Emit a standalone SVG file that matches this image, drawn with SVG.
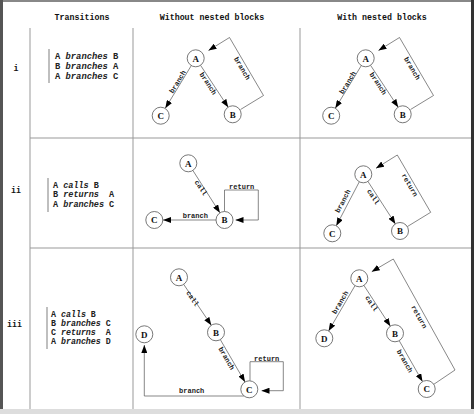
<svg xmlns="http://www.w3.org/2000/svg" width="474" height="414" viewBox="0 0 474 414">
<defs>
<marker id="arr" markerUnits="userSpaceOnUse" markerWidth="8" markerHeight="6" viewBox="0 0 8 6" refX="8" refY="3" orient="auto"><path d="M0,0 L8,3 L0,6 z" fill="#000"/></marker>
</defs>
<style>
.grid{stroke:#999;stroke-width:1;fill:none}
.bar{stroke:#aaa;stroke-width:1.5}
.hdr{font-family:"Liberation Mono",monospace;font-weight:bold;font-size:8.3px;fill:#111}
.tr{font-family:"Liberation Mono",monospace;font-weight:bold;fill:#222;white-space:pre}
.it{font-style:italic}
.nd circle{fill:#fff;stroke:#555;stroke-width:0.8}
.nd text{font-family:"Liberation Serif",serif;font-weight:bold;font-size:9px;text-anchor:middle;fill:#111}
.e{stroke:#555;stroke-width:0.7;fill:none;marker-end:url(#arr)}
.l{stroke:#555;stroke-width:0.7;fill:none}
.lb{font-family:"Liberation Mono",monospace;font-weight:bold;font-size:7px;text-anchor:middle;fill:#222}
</style>
<rect x="0" y="0" width="474" height="414" fill="#fff"/>
<rect x="0" y="0" width="474" height="2" fill="#888"/>
<rect x="0" y="0" width="3" height="414" fill="#555"/>
<rect x="471" y="0" width="3" height="414" fill="#333"/>
<rect x="0" y="409" width="474" height="5" fill="#ddd"/>

<g id="table">
<line class="grid" x1="30" y1="28" x2="30" y2="409"/>
<line class="grid" x1="133" y1="28" x2="133" y2="409"/>
<line class="grid" x1="300" y1="28" x2="300" y2="409"/>
<line class="grid" x1="30" y1="138" x2="471" y2="138"/>
<line class="grid" x1="30" y1="248" x2="471" y2="248"/>
</g>

<g id="headers">
<text class="hdr" x="82" y="20" text-anchor="middle">Transitions</text>
<text class="hdr" x="212" y="20" text-anchor="middle">Without nested blocks</text>
<text class="hdr" x="382" y="20" text-anchor="middle">With nested blocks</text>
<text class="hdr" x="16" y="71" text-anchor="middle">i</text>
<text class="hdr" x="16" y="193" text-anchor="middle">ii</text>
<text class="hdr" x="14.5" y="327" text-anchor="middle">iii</text>
</g>

<g id="transitions">
<line class="bar" x1="49" y1="49" x2="49" y2="83"/>
<text class="tr" font-size="8.8" x="55" y="59">A <tspan class="it">branches</tspan> B</text>
<text class="tr" font-size="8.8" x="55" y="69">B <tspan class="it">branches</tspan> A</text>
<text class="tr" font-size="8.8" x="55" y="79">A <tspan class="it">branches</tspan> C</text>
<line class="bar" x1="48" y1="178" x2="48" y2="212"/>
<text class="tr" font-size="8.5" x="53" y="188">A <tspan class="it">calls</tspan> B</text>
<text class="tr" font-size="8.5" x="53" y="197.3">B <tspan class="it">returns</tspan>  A</text>
<text class="tr" font-size="8.5" x="53" y="206.5">A <tspan class="it">branches</tspan> C</text>
<line class="bar" x1="47" y1="307" x2="47" y2="349"/>
<text class="tr" font-size="8.3" x="51" y="317">A <tspan class="it">calls</tspan> B</text>
<text class="tr" font-size="8.3" x="51" y="326">B <tspan class="it">branches</tspan> C</text>
<text class="tr" font-size="8.3" x="51" y="335">C <tspan class="it">returns</tspan>  A</text>
<text class="tr" font-size="8.3" x="51" y="344">A <tspan class="it">branches</tspan> D</text>
</g>

<g id="connectors">
<!-- row i, without -->
<line class="e" x1="191.3" y1="65.6" x2="165.3" y2="108.3"/>
<line class="e" x1="200.6" y1="65.4" x2="228.2" y2="107.2"/>
<polyline class="e" points="240.5,109.5 263.5,95.5 229.5,37.5 208.5,50.5"/>
<text class="lb" transform="translate(177.5,81.7) rotate(-58.6)" y="2.5">branch</text>
<text class="lb" transform="translate(208.3,83.3) rotate(56.5)" y="2.5">branch</text>
<text class="lb" transform="translate(242.3,68.3) rotate(59.6)" y="2.5">branch</text>
<!-- row i, with -->
<line class="e" x1="361.3" y1="65.6" x2="335.3" y2="108.3"/>
<line class="e" x1="370.6" y1="65.4" x2="398.2" y2="107.2"/>
<polyline class="e" points="410.5,109.5 433.5,95.5 399.5,37.5 378.5,50.5"/>
<text class="lb" transform="translate(347.5,82.5) rotate(-58.6)" y="2.5">branch</text>
<text class="lb" transform="translate(378.3,83.3) rotate(56.5)" y="2.5">branch</text>
<text class="lb" transform="translate(412.3,68.3) rotate(59.6)" y="2.5">branch</text>
<!-- row ii, without -->
<line class="e" x1="192.9" y1="170.5" x2="219.9" y2="212.8"/>
<line class="e" x1="216" y1="220" x2="163" y2="220"/>
<polyline class="e" points="224.5,211.5 224.5,190 258.3,190 258.3,220 235.5,220"/>
<text class="lb" transform="translate(201,187.7) rotate(57.4)" y="2.5">call</text>
<text class="lb" x="195.3" y="218.3">branch</text>
<text class="lb" x="241.7" y="189.2">return</text>
<!-- row ii, with -->
<line class="e" x1="359.3" y1="181.8" x2="336.3" y2="225.8"/>
<line class="e" x1="367.9" y1="181.4" x2="395.4" y2="223.9"/>
<polyline class="e" points="407.3,226.6 430.7,212.3 397.3,155 376,168.3"/>
<text class="lb" transform="translate(342.7,201) rotate(-62.3)" y="2.5">branch</text>
<text class="lb" transform="translate(373.3,196.7) rotate(57.1)" y="2.5">call</text>
<text class="lb" transform="translate(410,185) rotate(59.8)" y="2.5">return</text>
<!-- row iii, without -->
<line class="e" x1="183.7" y1="284.4" x2="211.3" y2="325.2"/>
<line class="e" x1="220.3" y1="339.6" x2="245" y2="382"/>
<polyline class="e" points="244,396 144.3,396 144.3,345"/>
<polyline class="e" points="250,380.8 250,361.7 283.3,361.7 283.3,390.7 261.5,390.7"/>
<text class="lb" transform="translate(192.7,298.3) rotate(56.1)" y="2.5">call</text>
<text class="lb" transform="translate(226.7,358.3) rotate(59.7)" y="2.5">branch</text>
<text class="lb" x="191.7" y="393.2">branch</text>
<text class="lb" x="266.7" y="360.6">return</text>
<!-- row iii, with -->
<line class="e" x1="355" y1="285.6" x2="328.6" y2="331"/>
<line class="e" x1="363.9" y1="285.4" x2="390.4" y2="326.2"/>
<line class="e" x1="399.2" y1="340.7" x2="422.5" y2="381.6"/>
<polyline class="e" points="433.8,384.3 455,370 393.3,259 371.7,271.7"/>
<text class="lb" transform="translate(340,302.3) rotate(-59.7)" y="2.5">branch</text>
<text class="lb" transform="translate(371.7,303.3) rotate(57)" y="2.5">call</text>
<text class="lb" transform="translate(405,361) rotate(60.4)" y="2.5">branch</text>
<text class="lb" transform="translate(419.3,316.7) rotate(60.9)" y="2.5">return</text>
</g>

<!-- nodes row i without -->
<g id="i-wo-A" class="nd"><circle cx="195.7" cy="58.3" r="8.5"/><text x="195.7" y="61.5">A</text></g>
<g id="i-wo-B" class="nd"><circle cx="232.7" cy="114.3" r="8.5"/><text x="232.7" y="117.5">B</text></g>
<g id="i-wo-C" class="nd"><circle cx="160.7" cy="115.7" r="8.5"/><text x="160.7" y="118.9">C</text></g>
<!-- row i with -->
<g id="i-w-A" class="nd"><circle cx="365.7" cy="58.3" r="8.5"/><text x="365.7" y="61.5">A</text></g>
<g id="i-w-B" class="nd"><circle cx="402.7" cy="114.3" r="8.5"/><text x="402.7" y="117.5">B</text></g>
<g id="i-w-C" class="nd"><circle cx="331.2" cy="115.7" r="8.5"/><text x="331.2" y="118.9">C</text></g>
<!-- row ii without -->
<g id="ii-wo-A" class="nd"><circle cx="188.3" cy="163.3" r="8.5"/><text x="188.3" y="166.5">A</text></g>
<g id="ii-wo-B" class="nd"><circle cx="224.5" cy="220" r="8.5"/><text x="224.5" y="223.2">B</text></g>
<g id="ii-wo-C" class="nd"><circle cx="154.3" cy="220" r="8.5"/><text x="154.3" y="223.2">C</text></g>
<!-- row ii with -->
<g id="ii-w-A" class="nd"><circle cx="363.3" cy="174.3" r="8.5"/><text x="363.3" y="177.5">A</text></g>
<g id="ii-w-B" class="nd"><circle cx="400" cy="231" r="8.5"/><text x="400" y="234.2">B</text></g>
<g id="ii-w-C" class="nd"><circle cx="332.3" cy="233.3" r="8.5"/><text x="332.3" y="236.5">C</text></g>
<!-- row iii without -->
<g id="iii-wo-A" class="nd"><circle cx="179" cy="277.3" r="8.5"/><text x="179" y="280.5">A</text></g>
<g id="iii-wo-B" class="nd"><circle cx="216" cy="332.3" r="8.5"/><text x="216" y="335.5">B</text></g>
<g id="iii-wo-C" class="nd"><circle cx="249.3" cy="389.3" r="8.5"/><text x="249.3" y="392.5">C</text></g>
<g id="iii-wo-D" class="nd"><circle cx="144.3" cy="334.3" r="8.5"/><text x="144.3" y="337.5">D</text></g>
<!-- row iii with -->
<g id="iii-w-A" class="nd"><circle cx="359.3" cy="278.3" r="8.5"/><text x="359.3" y="281.5">A</text></g>
<g id="iii-w-B" class="nd"><circle cx="395" cy="333.3" r="8.5"/><text x="395" y="336.5">B</text></g>
<g id="iii-w-C" class="nd"><circle cx="426.7" cy="389" r="8.5"/><text x="426.7" y="392.2">C</text></g>
<g id="iii-w-D" class="nd"><circle cx="324.3" cy="338.3" r="8.5"/><text x="324.3" y="341.5">D</text></g>
</svg>
